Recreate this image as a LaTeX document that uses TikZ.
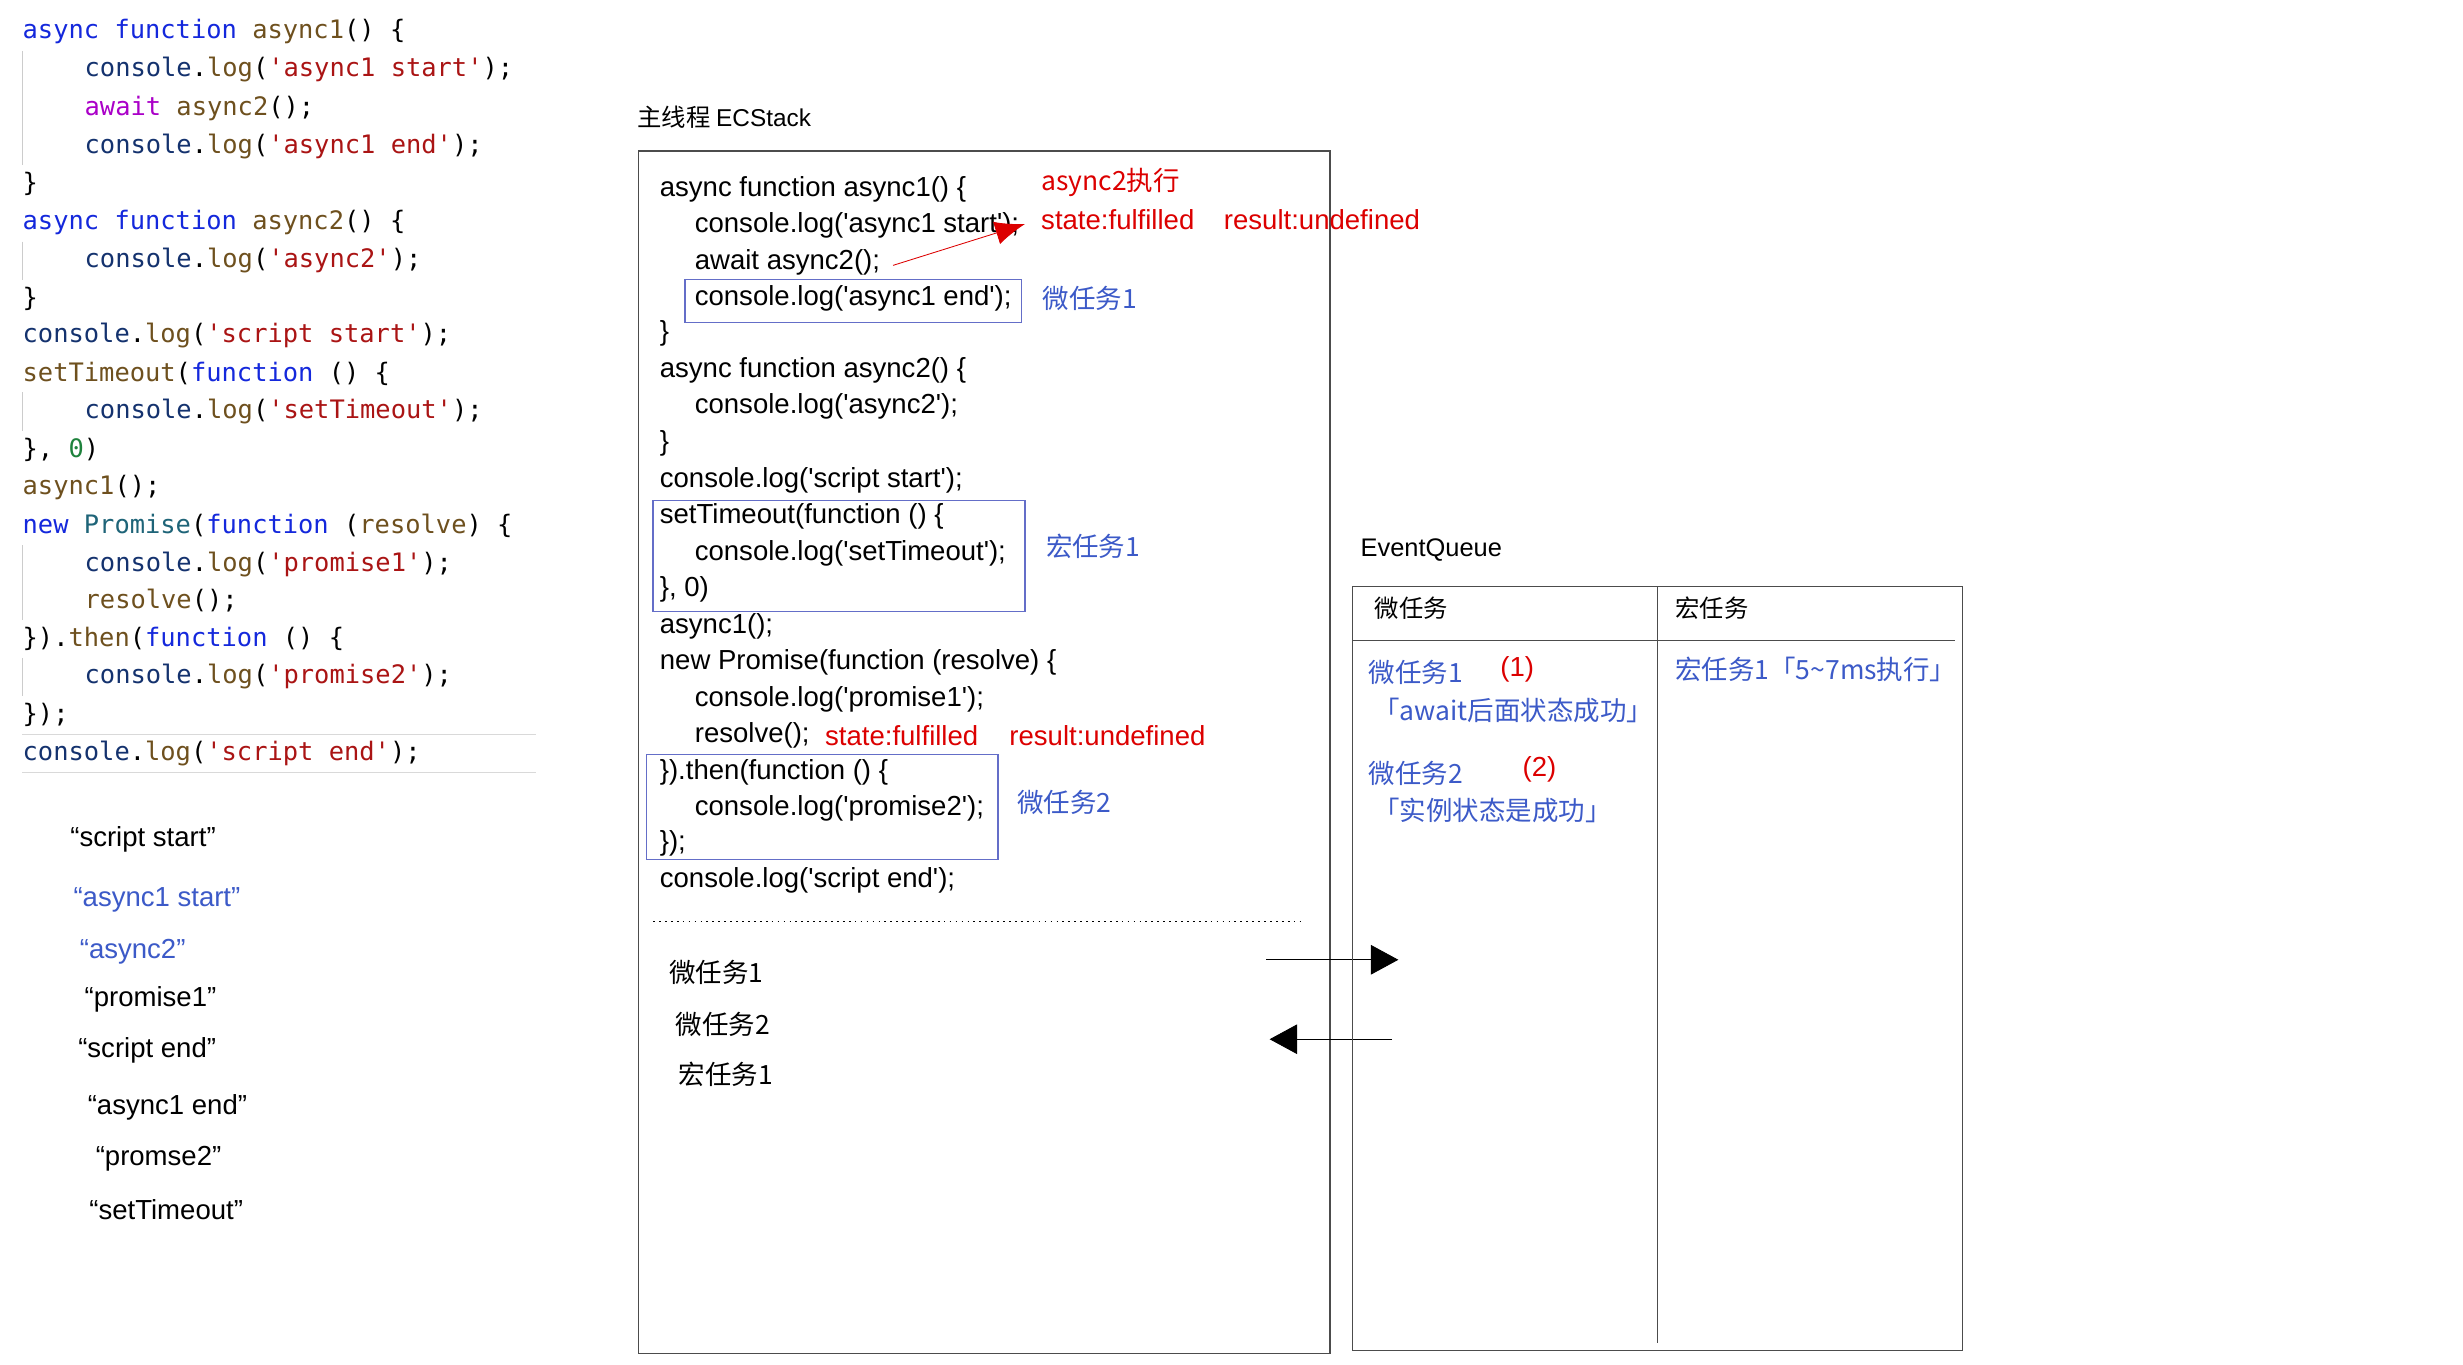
\documentclass[tikz,border=0pt]{standalone}
\usepackage{fontspec}
\usetikzlibrary{arrows.meta}
\setmonofont{DejaVu Sans Mono}
\newfontfamily\hv{Liberation Sans}
\newfontfamily\cjk{Noto Sans CJK SC}
\definecolor{kw}{RGB}{20,40,220}
\definecolor{obj}{RGB}{20,50,110}
\definecolor{fnc}{RGB}{110,80,30}
\definecolor{str}{RGB}{170,20,20}
\definecolor{aw}{RGB}{170,0,200}
\definecolor{num}{RGB}{30,130,60}
\definecolor{cls}{RGB}{30,100,120}
\definecolor{lblue}{RGB}{60,90,200}
\definecolor{lred}{RGB}{220,0,0}
\definecolor{bx}{RGB}{100,110,200}
\newcommand{\cK}[1]{\textcolor{kw}{#1}}
\newcommand{\cO}[1]{\textcolor{obj}{#1}}
\newcommand{\cF}[1]{\textcolor{fnc}{#1}}
\newcommand{\cS}[1]{\textcolor{str}{#1}}
\newcommand{\cl}{\cO{console}.\cF{log}}
\begin{document}
\begin{tikzpicture}[x=0.75pt,y=-0.75pt,
  cd/.style={anchor=west,inner sep=0,font=\ttfamily\fontsize{12}{14}\selectfont},
  tx/.style={anchor=west,inner sep=0,font=\hv\fontsize{13}{15}\selectfont},
  cn/.style={anchor=west,inner sep=0,font=\cjk\fontsize{12.5}{15}\selectfont},
  hd/.style={anchor=west,inner sep=0,font=\cjk\fontsize{11.5}{14}\selectfont},
  bline/.style={draw=bx,line width=0.6pt},
  frame/.style={draw=black!70,line width=0.6pt}]
\useasboundingbox[fill=white] (0,0) rectangle (1550,859);
% left code
\draw[gray!40] (14,32)--(14,104) (14,152)--(14,176) (14,247)--(14,271) (14,343)--(14,390) (14,414)--(14,438);
\draw[gray!30] (14,462)--(337,462) (14,486)--(337,486);
\node[cd] (c1) at (14,20) {\cK{async function} \cF{async1}() \{};
\node[cd] (c2) at (53,44) {\cl(\cS{'async1 start'});};
\node[cd] (c3) at (53,68) {\textcolor{aw}{await} \cF{async2}();};
\node[cd] (c4) at (53,92) {\cl(\cS{'async1 end'});};
\node[cd] (c5) at (14,116) {\}};
\node[cd] (c6) at (14,140) {\cK{async function} \cF{async2}() \{};
\node[cd] (c7) at (53,164) {\cl(\cS{'async2'});};
\node[cd] (c8) at (14,188) {\}};
\node[cd] (c9) at (14,211) {\cl(\cS{'script start'});};
\node[cd] (c10) at (14,235) {\cF{setTimeout}(\cK{function} () \{};
\node[cd] (c11) at (53,259) {\cl(\cS{'setTimeout'});};
\node[cd] (c12) at (14,283) {\}, \textcolor{num}{0})};
\node[cd] (c13) at (14,307) {\cF{async1}();};
\node[cd] (c14) at (14,331) {\cK{new} \textcolor{cls}{Promise}(\cK{function} (\cF{resolve}) \{};
\node[cd] (c15) at (53,355) {\cl(\cS{'promise1'});};
\node[cd] (c16) at (53,378) {\cF{resolve}();};
\node[cd] (c17) at (14,402) {\}).\cF{then}(\cK{function} () \{};
\node[cd] (c18) at (53,426) {\cl(\cS{'promise2'});};
\node[cd] (c19) at (14,450) {\});};
\node[cd] (c20) at (14,474) {\cl(\cS{'script end'});};
% output list
\node[tx] (o1) at (44,528) {“script start”};
\node[tx,text=lblue] (o2) at (46,566) {“async1 start”};
\node[tx,text=lblue] (o3) at (50,599) {“async2”};
\node[tx] (o4) at (53,629) {“promise1”};
\node[tx] (o5) at (49,661) {“script end”};
\node[tx] (o6) at (55,697) {“async1 end”};
\node[tx] (o7) at (60,729) {“promse2”};
\node[tx] (o8) at (56,761) {“setTimeout”};
% middle
\node[hd] (t1) at (401,74) {主线程 \hv ECStack};
\draw[frame] (402,95) rectangle (837,852);
\node[tx] (m1) at (415,119) {async function async1() \{};
\node[tx] (m2) at (437,142) {console.log('async1 start');};
\node[tx] (m3) at (437,165) {await async2();};
\node[tx] (m4) at (437,188) {console.log('async1 end');};
\node[tx] (m5) at (415,210) {\}};
\node[tx] (m6) at (415,233) {async function async2() \{};
\node[tx] (m7) at (437,256) {console.log('async2');};
\node[tx] (m8) at (415,279) {\}};
\node[tx] (m9) at (415,302) {console.log('script start');};
\node[tx] (m10) at (415,325) {setTimeout(function () \{};
\node[tx] (m11) at (437,348) {console.log('setTimeout');};
\node[tx] (m12) at (415,371) {\}, 0)};
\node[tx] (m13) at (415,394) {async1();};
\node[tx] (m14) at (415,417) {new Promise(function (resolve) \{};
\node[tx] (m15) at (437,440) {console.log('promise1');};
\node[tx] (m16) at (437,463) {resolve();};
\node[tx] (m17) at (415,486) {\}).then(function () \{};
\node[tx] (m18) at (437,509) {console.log('promise2');};
\node[tx] (m19) at (415,531) {\});};
\node[tx] (m20) at (415,554) {console.log('script end');};
\draw[bline] (431,176) rectangle (643,203);
\draw[bline] (411,315) rectangle (645,385);
\draw[bline] (407,475) rectangle (628,541);
\node[cn,text=lblue] (l1) at (656,188) {微任务1};
\node[cn,text=lblue] (l2) at (658,344) {宏任务1};
\node[cn,text=lblue] (l3) at (640,505) {微任务2};
\node[cn,text=lred] (r1) at (655,115) {async2执行};
\node[tx,text=lred] (r2) at (655,138) {state:fulfilled};
\node[tx,text=lred] (r3) at (770,138) {result:undefined};
\node[tx,text=lred] (r4) at (519,463) {state:fulfilled};
\node[tx,text=lred] (r5) at (635,463) {result:undefined};
\coordinate (a0) at (562,167); \coordinate (a1) at (645,141);
\draw[lred,-{Latex[length=14pt,width=11pt]}] (a0)--(a1);
\draw[dotted,line width=0.8pt] (411,580)--(818,580);
\node[cn] (q1) at (421,612) {微任务1};
\node[cn] (q2) at (425,645) {微任务2};
\node[cn] (q3) at (427,676) {宏任务1};
\coordinate (b0) at (797,604); \coordinate (b1) at (880,604);
\coordinate (b2) at (876,654); \coordinate (b3) at (799,654);
\draw[-{Triangle[length=13pt,width=14pt]}] (b0)--(b1);
\draw[-{Triangle[length=13pt,width=14pt]}] (b2)--(b3);
% event queue
\node[tx,font=\hv\fontsize{12}{14}\selectfont] (e0) at (856,346) {EventQueue};
\draw[frame] (851,369) rectangle (1235,850);
\draw[frame] (851,403)--(1230,403) (1043,369)--(1043,845);
\node[hd] (h1) at (865,383) {微任务};
\node[hd] (h2) at (1054,383) {宏任务};
\node[cn,text=lblue] (e1) at (861,423) {微任务1};
\node[tx,text=lred] (e2) at (944,421) {(1)};
\node[cn,text=lblue] (e3) at (864,447) {「await后面状态成功」};
\node[cn,text=lblue] (e4) at (861,487) {微任务2};
\node[tx,text=lred] (e5) at (958,484) {(2)};
\node[cn,text=lblue] (e6) at (864,510) {「实例状态是成功」};
\node[cn,text=lblue] (e7) at (1054,421) {宏任务1「5\textasciitilde7ms执行」};
\end{tikzpicture}
\end{document}
